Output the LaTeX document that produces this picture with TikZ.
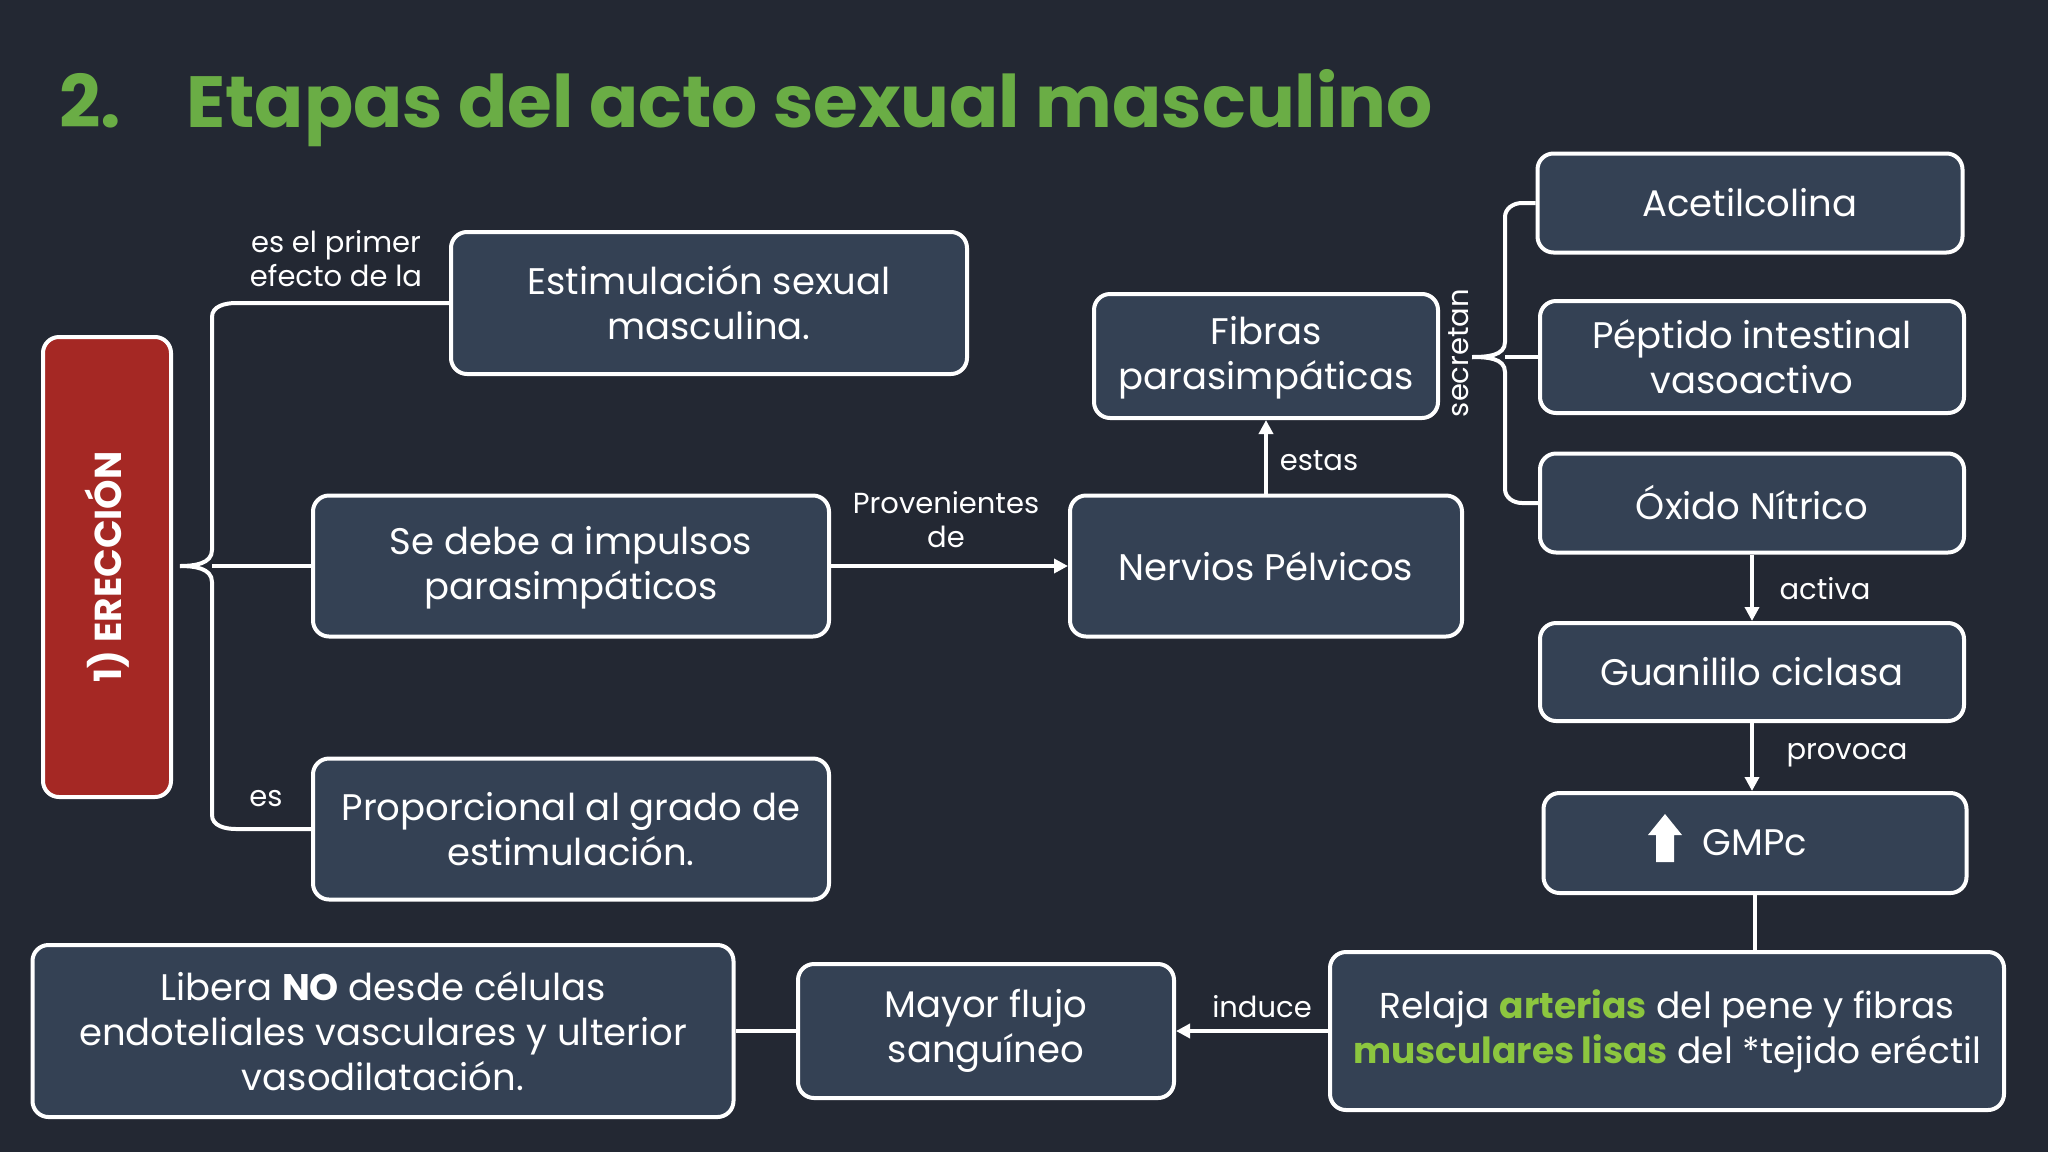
\documentclass[tikz,border=0pt]{standalone}
\usepackage{fontspec}
\setmainfont{Poppins}
\usetikzlibrary{arrows.meta}
\definecolor{bg}{HTML}{232833}
\definecolor{boxc}{HTML}{344154}
\definecolor{redc}{HTML}{A52824}
\definecolor{titlec}{HTML}{6AAD45}
\definecolor{hl}{HTML}{8CC63F}
\begin{document}
\begin{tikzpicture}[x=1pt,y=-1pt,
 box/.style={draw=white,line width=4pt,fill=boxc,rounded corners=16pt,text=white,align=center,inner sep=0pt,font=\fontsize{37}{45}\selectfont},
 lbl/.style={text=white,align=center,inner sep=0pt,font=\fontsize{29}{34}\selectfont},
 conn/.style={draw=white,line width=4pt},
 arr/.style={conn,-{Triangle[length=14pt,width=14pt]}}]
\fill[bg] (0,0) rectangle (2048,1152);
\useasboundingbox (0,0) rectangle (2048,1152);
% title
\node[anchor=base west,inner sep=0pt,text=titlec,font=\fontsize{72.5}{80}\selectfont\bfseries] (tnum) at (59,127) {2.};
\node[anchor=base west,inner sep=0pt,text=titlec,font=\fontsize{72.5}{80}\selectfont\bfseries] (title) at (186,127) {Etapas del acto sexual masculino};
% nodes
\node[box,fill=redc,minimum width=128pt,minimum height=460pt] (erec) at (107,567) {};
\node[rotate=90,text=white,inner sep=0pt,font=\bfseries\fontsize{37.5}{42}\selectfont] (ereclbl) at (erec.center) {1) ERECCIÓN};
\node[box,minimum width=516pt,minimum height=142pt] (estim) at (709,303) {Estimulación sexual\\masculina.};
\node[box,minimum width=516pt,minimum height=141pt] (sedebe) at (571,566) {\strut Se debe a impulsos\\parasimpáticos};
\node[box,minimum width=516pt,minimum height=141pt] (prop) at (571,829) {Proporcional al grado de\\estimulación.};
\node[box,minimum width=392pt,minimum height=141pt] (nerv) at (1266,566) {Nervios Pélvicos};
\node[box,minimum width=344pt,minimum height=124pt] (fibras) at (1266,356) {\strut Fibras\\parasimpáticas};
\node[box,minimum width=425pt,minimum height=99pt] (acet) at (1750,203) {Acetilcolina};
\node[box,minimum width=424pt,minimum height=112pt] (pept) at (1752,357) {Péptido intestinal\\vasoactivo};
\node[box,minimum width=424pt,minimum height=99pt] (oxido) at (1752,503) {Óxido Nítrico};
\node[box,minimum width=424pt,minimum height=98pt] (guan) at (1752,672) {Guanililo ciclasa};
\node[box,minimum width=423pt,minimum height=100pt] (gmpc) at (1755,843) {GMPc};
\node[box,minimum width=674pt,minimum height=158pt,font=\fontsize{36}{45}\selectfont] (relaja) at (1667,1031) {Relaja \textcolor{hl}{\textbf{arterias}} del pene y fibras\\\textcolor{hl}{\textbf{musculares lisas}} del *tejido eréctil};
\node[box,minimum width=376pt,minimum height=134pt] (mayor) at (986,1031) {Mayor flujo\\sanguíneo};
\node[box,minimum width=701pt,minimum height=172pt] (libera) at (383,1031) {Libera \textbf{NO} desde células\\endoteliales vasculares y ulterior\\vasodilatación.};
% GMPc up arrow
\begin{scope}[shift={(gmpc.center)}]
\fill[white] (-99,19) -- (-99,-8) -- (-107,-8) -- (-90,-29) -- (-73,-8) -- (-81,-8) -- (-81,19) -- cycle;
\end{scope}
% left brace
\coordinate (bt) at (180,566);
\draw[conn] (estim.west) -- (236,303) to[out=180,in=90] (212,317) -- (212,550) to[out=-90,in=0] (bt);
\draw[conn] (bt) to[out=0,in=90] (212,582) -- (212,815) to[out=-90,in=180] (236,829) -- (prop.west);
\draw[conn] (212,566) -- (sedebe.west);
% secretan brace
\coordinate (st) at (1472,357);
\draw[conn] (acet.west) -- (1522,203) to[out=180,in=90] (1505,217) -- (1505,342) to[out=-90,in=0] (st);
\draw[conn] (st) to[out=0,in=90] (1505,372) -- (1505,489) to[out=-90,in=180] (1522,503) -- (oxido.west);
\draw[conn] (1505,357) -- (pept.west);
% arrows
\draw[arr] (sedebe.east) -- (nerv.west);
\draw[arr] (nerv.north) -- (fibras.south);
\draw[arr] (oxido.south) -- (guan.north);
\draw[arr] (guan.south) -- (guan.south |- gmpc.north);
\draw[conn] (gmpc.south) -- (gmpc.south |- relaja.north);
\draw[arr] (relaja.west) -- (mayor.east);
\draw[conn] (mayor.west) -- (libera.east);
% labels
\node[lbl] (l1) at (336,259) {es el primer\\efecto de la};
\node[lbl] (l2) at (946,520) {Provenientes\\de};
\node[lbl] (l3) at (1319,461) {estas};
\node[lbl,rotate=90] (l4) at (1459,353) {secretan};
\node[lbl] (l5) at (1825,589) {activa};
\node[lbl] (l6) at (1847,755) {provoca};
\node[lbl] (l7) at (1262,1007) {induce};
\node[lbl] (l8) at (266,799) {es};
\end{tikzpicture}
\end{document}
